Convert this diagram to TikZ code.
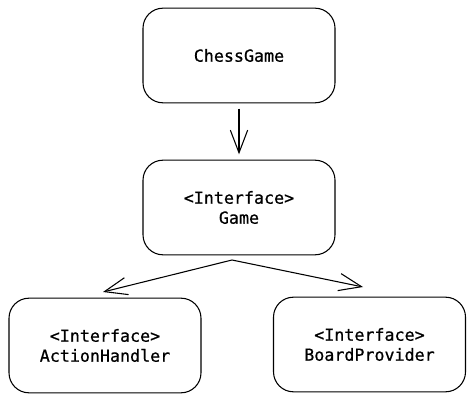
\documentclass[tikz,border=0pt]{standalone}
\usepackage{fontspec}
\newfontfamily\boxfont{DejaVu Sans Mono}[FakeBold=0.7]
\usetikzlibrary{arrows.meta}

\begin{document}
\begin{tikzpicture}[
    x=0.75pt, y=-0.75pt,
    line width=0.8pt,
    >={Straight Barb[length=17pt,width=13pt,line width=0.8pt]},
    classbox/.style={draw, rounded corners=15pt, minimum width=144pt,
        minimum height=71pt, align=center,
        font=\boxfont\fontsize{12.5}{15}\selectfont} % boxes of the diagram
]
\useasboundingbox (0,0) rectangle (474,402);

% ========== boxes ==========
\node[classbox] (chess) at (239,55.5) {ChessGame};
\node[classbox] (game) at (239,207.5) {<Interface>\\Game};
\node[classbox] (action) at (105,345.5) {<Interface>\\ActionHandler};
\node[classbox] (board) at (369.5,344.5) {<Interface>\\BoardProvider};

% ========== connectors ==========
\draw[->, shorten <=4pt, shorten >=4pt] (chess) -- (game);

\coordinate (split) at (232,260);
\coordinate (actionTip) at (103,292);
\coordinate (boardTip) at (363,287);
\draw[->] (split) -- (actionTip);
\draw[->] (split) -- (boardTip);

\end{tikzpicture}
\end{document}
